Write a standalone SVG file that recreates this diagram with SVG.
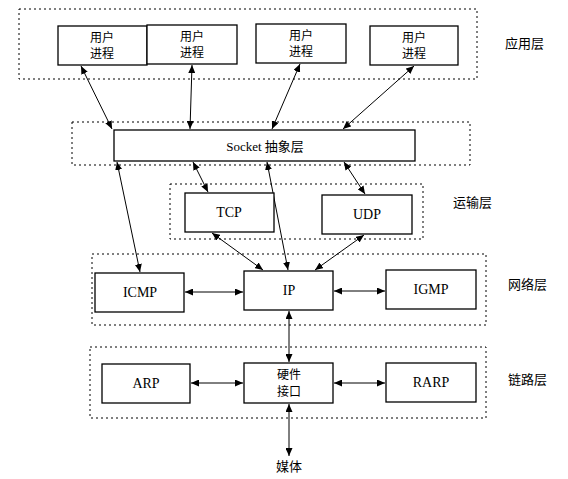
<svg xmlns="http://www.w3.org/2000/svg" width="568" height="479" viewBox="0 0 568 479">
<defs>
<marker id="ah" viewBox="0 0 8 7" refX="8" refY="3.5" markerWidth="8" markerHeight="7" markerUnits="userSpaceOnUse" orient="auto-start-reverse">
<path d="M0,0 L8,3.5 L0,7 z" fill="#000"/>
</marker>
</defs>
<style>
.layer{fill:none;stroke:#000;stroke-width:1;stroke-dasharray:2,3}
.box{fill:#fff;stroke:#000;stroke-width:1.3}
.zh{font-family:"Noto Sans CJK SC","Noto Sans",sans-serif;font-size:12px;fill:#000;text-anchor:middle}
.en{font-family:"Liberation Serif","Times New Roman",serif;font-size:14px;fill:#000;text-anchor:middle}
.lbl{font-family:"Noto Sans CJK SC","Noto Sans",sans-serif;font-size:13px;fill:#000}
.cn line{stroke:#000;stroke-width:1;marker-start:url(#ah);marker-end:url(#ah)}
</style>
<rect width="568" height="479" fill="#fff"/>
<g id="layers">
<rect class="layer" x="19" y="9" width="458" height="70"/>
<rect class="layer" x="72" y="122" width="398" height="43"/>
<rect class="layer" x="170" y="184" width="253" height="55"/>
<rect class="layer" x="92" y="254" width="394" height="71"/>
<rect class="layer" x="90" y="347" width="396" height="71"/>
</g>
<g id="layer-labels">
<text class="lbl" x="505" y="48">应用层</text>
<text class="lbl" x="453" y="207">运输层</text>
<text class="lbl" x="508" y="289">网络层</text>
<text class="lbl" x="508" y="384">链路层</text>
</g>
<g id="connectors" class="cn">
<line x1="81" y1="66" x2="112" y2="129"/>
<line x1="192" y1="65" x2="190" y2="129"/>
<line x1="300" y1="64" x2="272" y2="129"/>
<line x1="414" y1="66" x2="343" y2="129"/>
<line x1="117" y1="162" x2="140" y2="272"/>
<line x1="193" y1="162" x2="208" y2="192"/>
<line x1="267" y1="162" x2="288" y2="270"/>
<line x1="344" y1="162" x2="365" y2="194"/>
<line x1="212" y1="233" x2="263" y2="270"/>
<line x1="364" y1="235" x2="315" y2="270"/>
<line x1="185" y1="292" x2="243" y2="292"/>
<line x1="334" y1="291" x2="385" y2="291"/>
<line x1="289" y1="311" x2="289" y2="362"/>
<line x1="191" y1="383" x2="243" y2="383"/>
<line x1="334" y1="383" x2="385" y2="383"/>
<line x1="289" y1="404" x2="289" y2="456"/>
</g>
<g id="proc1"><rect class="box" x="58" y="26" width="89" height="39"/><text class="zh" x="102" y="42">用户</text><text class="zh" x="102" y="58">进程</text></g>
<g id="proc2"><rect class="box" x="147" y="25" width="90" height="39"/><text class="zh" x="192" y="41">用户</text><text class="zh" x="192" y="57">进程</text></g>
<g id="proc3"><rect class="box" x="256" y="24" width="90" height="39"/><text class="zh" x="301" y="40">用户</text><text class="zh" x="301" y="56">进程</text></g>
<g id="proc4"><rect class="box" x="370" y="26" width="88" height="39"/><text class="zh" x="414" y="42">用户</text><text class="zh" x="414" y="58">进程</text></g>
<g id="socket"><rect class="box" x="114" y="130" width="301" height="31"/><text x="265" y="151" style="font-size:13px;fill:#000;text-anchor:middle"><tspan style="font-family:'Liberation Serif',serif">Socket </tspan><tspan style="font-family:'Noto Sans CJK SC',sans-serif">抽象层</tspan></text></g>
<g id="tcp"><rect class="box" x="185" y="193" width="89" height="39"/><text class="en" x="229" y="217">TCP</text></g>
<g id="udp"><rect class="box" x="322" y="195" width="90" height="39"/><text class="en" x="367" y="219">UDP</text></g>
<g id="icmp"><rect class="box" x="95" y="273" width="89" height="39"/><text class="en" x="140" y="297">ICMP</text></g>
<g id="ip"><rect class="box" x="244" y="271" width="89" height="39"/><text class="en" x="289" y="295">IP</text></g>
<g id="igmp"><rect class="box" x="386" y="270" width="90" height="39"/><text class="en" x="431" y="294">IGMP</text></g>
<g id="arp"><rect class="box" x="102" y="364" width="88" height="39"/><text class="en" x="146" y="388">ARP</text></g>
<g id="hw"><rect class="box" x="244" y="363" width="89" height="40"/><text class="zh" x="289" y="379">硬件</text><text class="zh" x="289" y="396">接口</text></g>
<g id="rarp"><rect class="box" x="386" y="363" width="90" height="39"/><text class="en" x="431" y="387">RARP</text></g>
<g id="media"><text class="zh" x="289" y="471" style="font-size:13px">媒体</text></g>
</svg>
